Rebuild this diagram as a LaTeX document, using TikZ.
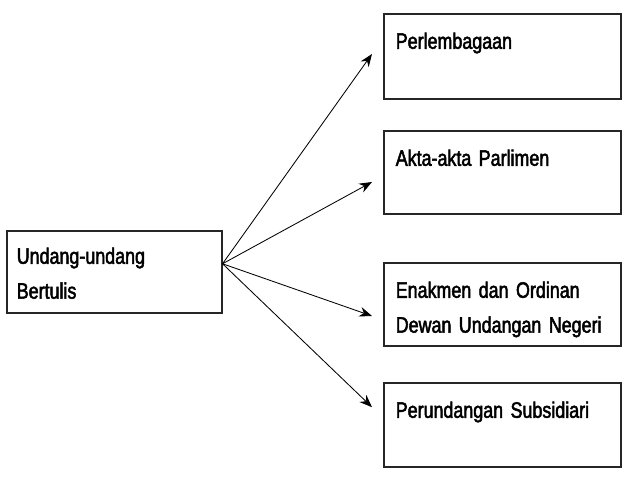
\documentclass[tikz,border=0pt]{standalone}
\usepackage{fontspec}
\setmainfont{Liberation Sans}[FakeStretch=0.8,FakeBold=2.2,WordSpace=0.8]
\usetikzlibrary{arrows.meta}
\begin{document}
\begin{tikzpicture}
\tikzstyle{lien}=[-{Stealth[length=9pt,width=7pt]},semithick]
\tikzset{kotak/.style={draw=black!85,line width=1.1pt,anchor=north west,align=left,
inner ysep=0pt,inner xsep=0.3cm,text width=#1,text height=0.875cm,
font=\fontsize{15.9}{24.8}\selectfont},
kotak/.default={5.325cm}}
\useasboundingbox (0,0) rectangle (15.95,11.95);
\node[kotak=4.875cm,inner xsep=0.25cm,text height=0.825cm,text depth=1.225cm] (U) at (0.15,6.2) {Undang-undang\\Bertulis};
\node[kotak,text depth=1.25cm] (P1) at (9.575,11.625) {Perlembagaan};
\node[kotak,text depth=1.2cm] (P2) at (9.575,8.7) {Akta-akta Parlimen};
\node[kotak,text depth=1.2cm] (P3) at (9.575,5.4) {Enakmen dan Ordinan\\Dewan Undangan Negeri};
\node[kotak,text depth=1.225cm] (P4) at (9.575,2.4) {Perundangan Subsidiari};

\coordinate (src) at ([yshift=0.2cm]U.east);
\coordinate (k1) at (9.3,10.6);
\coordinate (k2) at (9.3,7.4);
\coordinate (k3) at (9.3,4.05);
\coordinate (k4) at (9.3,1.77);

\draw[lien] (src) -- (k1);
\draw[lien] (src) -- (k2);
\draw[lien] (src) -- (k3);
\draw[lien] (src) -- (k4);
\end{tikzpicture}
\end{document}
